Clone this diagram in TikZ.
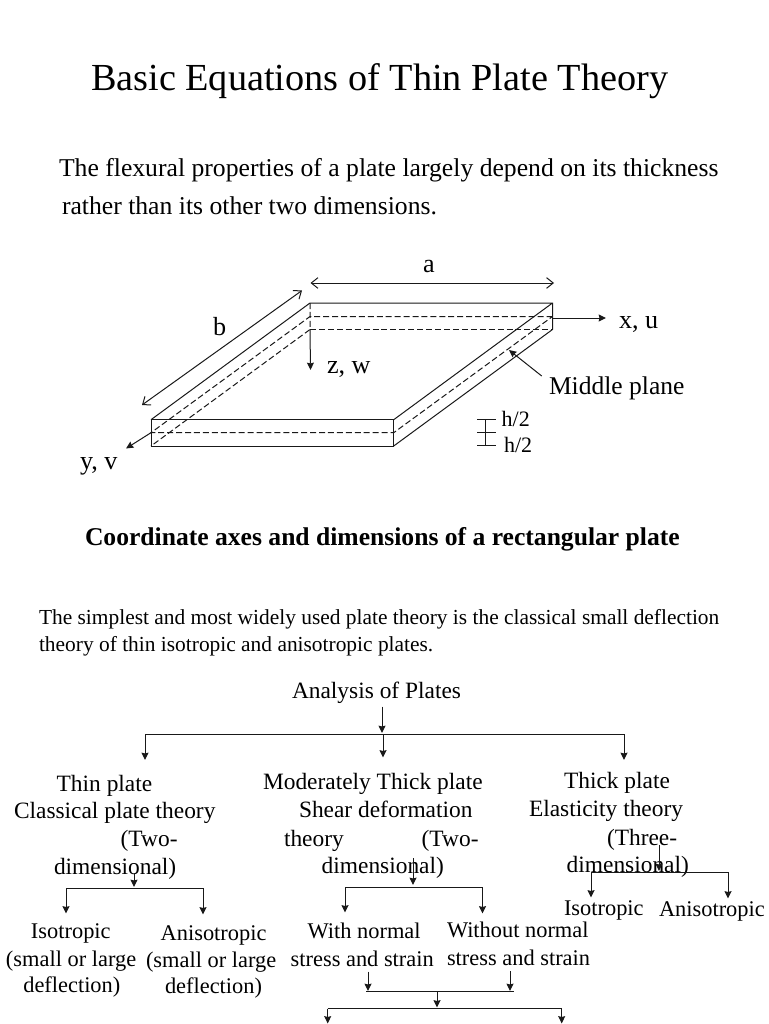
\documentclass[tikz,border=0pt]{standalone}
\usepackage{fontspec}
\setmainfont{Liberation Serif}
\usetikzlibrary{arrows.meta}
\tikzset{
  lbl/.style={anchor=base west,inner sep=0pt,outer sep=0pt,font=\fontsize{17.55}{20}\selectfont},
  lows/.style={lbl,font=\fontsize{16.8}{20}\selectfont},
  ttl/.style={lbl,font=\fontsize{28.7}{32}\selectfont},
  bodytxt/.style={lbl,font=\fontsize{19.25}{22}\selectfont},
  smalltxt/.style={lbl,font=\fontsize{16.06}{18}\selectfont},
  captxt/.style={lbl,font=\fontsize{19.2}{22}\selectfont\bfseries},
  dia/.style={lbl,font=\fontsize{19.6}{22}\selectfont},
  mid/.style={lbl,font=\fontsize{19.15}{22}\selectfont},
  hh/.style={lbl,font=\fontsize{16.5}{20}\selectfont},
  ln/.style={line width=0.75pt,black!90},
  dashln/.style={ln,dash pattern=on 4.5pt off 2.2pt},
  arr/.style={ln,-{Stealth[length=5.5pt,width=5.2pt,inset=0.6pt]}},
  dimln/.style={ln,{Straight Barb[length=5pt,width=8pt]}-{Straight Barb[length=5pt,width=8pt]}},
  barln/.style={line width=0.75pt,black!90},
}
\begin{document}
\begin{tikzpicture}[x=0.75pt,y=-0.75pt]
\useasboundingbox (0,0) rectangle (768,1024);
% texts
\node[ttl] (title) at (91,90) {Basic Equations of Thin Plate Theory};
\node[bodytxt] (p1) at (59,176) {The flexural properties of a plate largely depend on its thickness};
\node[bodytxt] (p2) at (62,214) {rather than its other two dimensions.};
\node[dia] (la) at (423,272) {a};
\node[dia] (lb) at (213,335) {b};
\node[dia] (lz) at (327,373) {z, w};
\node[dia] (lx) at (619,328) {x, u};
\node[dia] (ly) at (80,469) {y, v};
\node[mid] (lm) at (549,394) {Middle plane};
\node[hh] (h1) at (501.7,426) {h/2};
\node[hh] (h2) at (504,452) {h/2};
\node[captxt] (capt) at (85,545) {Coordinate axes and dimensions of a rectangular plate};
\node[smalltxt] (s1) at (39,624) {The simplest and most widely used plate theory is the classical small deflection};
\node[smalltxt] (s2) at (39,651) {theory of thin isotropic and anisotropic plates.};
\node[lbl] (root) at (292,698) {Analysis of Plates};
\node[lbl] (t1) at (56.7,791) {Thin plate};
\node[lbl] (t2) at (14,818) {Classical plate theory};
\node[lbl] (t3) at (120.7,846) {(Two-};
\node[lbl] (t4) at (54,874) {dimensional)};
\node[lbl] (m1) at (263,789) {Moderately Thick plate};
\node[lbl] (m2) at (299,817) {Shear deformation};
\node[lbl] (m3) at (284,846) {theory};
\node[lbl] (m3b) at (421.7,846) {(Two-};
\node[lbl] (m4) at (321.7,873) {dimensional)};
\node[lbl] (k1) at (564,788) {Thick plate};
\node[lbl] (k2) at (529,816.7) {Elasticity theory};
\node[lbl] (k3) at (607,845) {(Three-};
\node[lbl] (k4) at (566.7,872) {dimensional)};
\node[lows] (ki) at (564,915.7) {Isotropic};
\node[lows] (ka) at (659,916) {Anisotropic};
\node[lows] (ti1) at (31,938) {Isotropic};
\node[lows] (ti2) at (6,966) {(small or large};
\node[lows] (ti3) at (23.3,992) {deflection)};
\node[lows] (ta1) at (160.7,940) {Anisotropic};
\node[lows] (ta2) at (146,967) {(small or large};
\node[lows] (ta3) at (165,993) {deflection)};
\node[lows] (w1) at (307.7,938) {With normal};
\node[lows] (w2) at (290.7,966) {stress and strain};
\node[lows] (o1) at (447,937.7) {Without normal};
\node[lows] (o2) at (447,965) {stress and strain};
% plate corners
\coordinate (BLt) at (310,303);   \coordinate (BRt) at (552.5,303);
\coordinate (BLm) at (310,316.5); \coordinate (BRm) at (552.5,316.5);
\coordinate (BLb) at (310,329.5); \coordinate (BRb) at (552.5,329.5);
\coordinate (FLt) at (151,419.7); \coordinate (FRt) at (393.7,419.7);
\coordinate (FLm) at (151,432.7); \coordinate (FRm) at (393.7,432.7);
\coordinate (FLb) at (151,446);   \coordinate (FRb) at (393.7,446);
\draw[ln] (BLt) -- (BRt) -- (BRb) (BRt) -- (FRt) (BRb) -- (FRb) (BLt) -- (FLt);
\draw[ln] (FLt) rectangle (FRb);
\draw[dashln] (BLt) -- (BLb) -- (FLb);
\draw[dashln] (BRm) -- (BLm) -- (FLm) -- (FRm) -- cycle;
\draw[dashln] (BLb) -- (BRb);
% dimensions and axes
\coordinate (aL) at (310.5,283); \coordinate (aR) at (554,283);
\draw[dimln] (aL) -- (aR);
\coordinate (bT) at (302,290.5); \coordinate (bB) at (142,405);
\draw[dimln] (bT) -- (bB);
\coordinate (yEnd) at (126,448.5); \draw[arr] (FLm) -- (yEnd);
\coordinate (zEnd) at (310.5,370); \draw[arr] (BLb) -- (zEnd);
\coordinate (xS) at (552.5,318); \coordinate (xEnd) at (606,318); \draw[arr] (xS) -- (xEnd);
\coordinate (mS) at (541.7,376); \coordinate (mE) at (509,350); \draw[arr] (mS) -- (mE);
\coordinate (hA) at (477,419.7); \coordinate (hAr) at (496,419.7);
\coordinate (hB) at (477,432); \coordinate (hBr) at (496,432);
\coordinate (hC) at (477,445.5); \coordinate (hCr) at (496,445.5);
\coordinate (hV) at (485.3,419.7); \coordinate (hW) at (485.3,446);
\draw[ln] (hA) -- (hAr) (hB) -- (hBr) (hC) -- (hCr) (hV) -- (hW);
% root tree
\coordinate (r0) at (382,706.5); \coordinate (r1) at (382,733);
\draw[arr] (r0) -- (r1);
\coordinate (rL) at (145,734.4); \coordinate (rM) at (383,734.4); \coordinate (rR) at (624,734.4);
\coordinate (rLe) at (145,760); \coordinate (rMe) at (383,757.5); \coordinate (rRe) at (624,760);
\draw[barln] (rL) -- (rR);
\draw[arr] (rL) -- (rLe); \draw[arr] (rM) -- (rMe); \draw[arr] (rR) -- (rRe);
% thin plate
\coordinate (t0) at (134,873); \coordinate (t0e) at (134,887);
\draw[arr] (t0) -- (t0e);
\coordinate (tL) at (66,888.4); \coordinate (tR) at (203,888.4);
\coordinate (tLe) at (66,913.5); \coordinate (tRe) at (203,914.5);
\draw[barln] (tL) -- (tR);
\draw[arr] (tL) -- (tLe); \draw[arr] (tR) -- (tRe);
% moderately thick
\coordinate (m0) at (413,858); \coordinate (m0e) at (413,885);
\draw[arr] (m0) -- (m0e);
\coordinate (mL) at (345,887.7); \coordinate (mR) at (482.5,887.7);
\coordinate (mLe) at (345,912.5); \coordinate (mRe) at (482.5,913.5);
\draw[barln] (mL) -- (mR);
\draw[arr] (mL) -- (mLe); \draw[arr] (mR) -- (mRe);
% thick
\coordinate (k0) at (659,845); \coordinate (k0e) at (659,871);
\draw[arr] (k0) -- (k0e);
\coordinate (kL) at (591,872.4); \coordinate (kR) at (728,872.4);
\coordinate (kLe) at (591,897.5); \coordinate (kRe) at (728,898.5);
\draw[barln] (kL) -- (kR);
\draw[arr] (kL) -- (kLe); \draw[arr] (kR) -- (kRe);
% bottom
\coordinate (w0) at (368,971.5); \coordinate (w0e) at (368,991);
\coordinate (o0) at (510,971); \coordinate (o0e) at (510,991);
\draw[arr] (w0) -- (w0e); \draw[arr] (o0) -- (o0e);
\coordinate (bL) at (366,991.7); \coordinate (bR) at (514,991.7);
\draw[barln] (bL) -- (bR);
\coordinate (c0) at (437,991.7); \coordinate (c0e) at (437,1007.5);
\draw[arr] (c0) -- (c0e);
\coordinate (dL) at (327.7,1008.7); \coordinate (dR) at (561.7,1008.7);
\coordinate (dLe) at (327.7,1023.5); \coordinate (dRe) at (561.7,1023.5);
\draw[barln] (dL) -- (dR);
\draw[arr] (dL) -- (dLe); \draw[arr] (dR) -- (dRe);
\end{tikzpicture}
\end{document}
